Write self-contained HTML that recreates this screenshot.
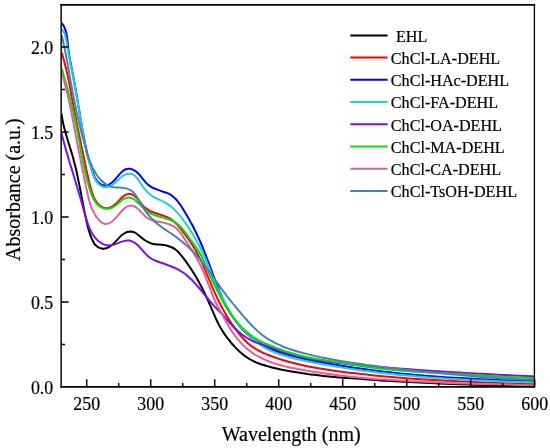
<!DOCTYPE html>
<html><head><meta charset="utf-8"><title>UV-Vis absorbance</title>
<style>html,body{margin:0;padding:0;background:#fff}body{width:550px;height:448px;overflow:hidden;position:relative}</style></head>
<body>
<svg width="550" height="448" viewBox="0 0 550 448" style="display:block;position:absolute;left:0;top:0">
<rect x="0" y="0" width="550" height="448" fill="#fff"/>
<clipPath id="c"><rect x="61.15" y="4.9" width="473.25" height="382.95000000000005"/></clipPath>
<g clip-path="url(#c)" fill="none" stroke-width="2" stroke-linejoin="round" stroke-linecap="butt">
<path d="M61.6,113.6C61.7,114.7 61.8,115.9 62.0,117.1C62.2,118.2 62.4,119.4 62.6,120.5C62.8,121.7 63.1,122.8 63.3,123.9C63.6,125.1 63.8,126.2 64.1,127.3C64.4,128.5 64.7,129.6 65.0,130.7C65.3,131.8 65.6,133.0 66.0,134.1C66.3,135.2 66.6,136.3 67.0,137.4C67.3,138.6 67.6,139.7 68.0,140.8C68.3,141.9 68.7,143.0 69.0,144.1C69.4,145.3 69.7,146.4 70.0,147.5C70.4,148.6 70.7,149.7 71.1,150.8C71.4,151.9 71.7,153.1 72.1,154.2C72.4,155.3 72.7,156.4 73.0,157.5C73.3,158.7 73.7,159.8 73.9,160.9C74.2,162.1 74.5,163.2 74.8,164.3C75.1,165.4 75.4,166.6 75.7,167.7C75.9,168.9 76.2,170.0 76.4,171.1C76.7,172.3 77.0,173.4 77.2,174.5C77.5,175.7 77.7,176.8 77.9,178.0C78.2,179.1 78.4,180.2 78.6,181.4C78.9,182.5 79.1,183.7 79.3,184.8C79.6,186.0 79.8,187.1 80.0,188.3C80.2,189.4 80.5,190.5 80.7,191.7C80.9,192.8 81.1,194.0 81.3,195.1C81.5,196.3 81.8,197.4 82.0,198.6C82.2,199.7 82.4,200.9 82.6,202.0C82.8,203.2 83.1,204.3 83.3,205.4C83.5,206.6 83.7,207.7 83.9,208.9C84.2,210.0 84.4,211.2 84.6,212.3C84.9,213.5 85.1,214.6 85.3,215.7C85.6,216.9 85.8,218.0 86.1,219.2C86.3,220.3 86.6,221.4 86.8,222.6C87.1,223.7 87.4,224.9 87.7,226.0C87.9,227.1 88.2,228.2 88.6,229.4C88.9,230.5 89.2,231.6 89.6,232.7C90.0,233.8 90.3,234.9 90.7,236.0C91.2,237.1 91.6,238.2 92.0,239.3C92.5,240.3 93.0,241.4 93.6,242.4C94.2,243.4 94.9,244.4 95.7,245.2C96.5,246.0 97.4,246.8 98.4,247.4C99.5,248.0 100.6,248.4 101.7,248.6C102.8,248.8 104.0,248.8 105.2,248.6C106.3,248.3 107.4,247.9 108.4,247.4C109.4,246.8 110.4,246.2 111.4,245.5C112.3,244.7 113.2,244.0 114.0,243.2C114.8,242.3 115.7,241.5 116.4,240.7C117.2,239.8 118.0,238.9 118.8,238.1C119.6,237.2 120.5,236.4 121.3,235.6C122.2,234.8 123.1,234.1 124.1,233.5C125.1,232.9 126.1,232.3 127.2,232.0C128.3,231.6 129.5,231.4 130.7,231.4C131.8,231.5 133.0,231.8 134.1,232.2C135.1,232.7 136.1,233.3 137.0,234.0C138.0,234.7 138.9,235.5 139.8,236.3C140.7,237.0 141.6,237.7 142.5,238.4C143.4,239.2 144.4,239.8 145.3,240.5C146.3,241.1 147.3,241.7 148.4,242.2C149.4,242.8 150.5,243.2 151.6,243.5C152.7,243.9 153.8,244.1 155.0,244.3C156.2,244.4 157.3,244.5 158.5,244.5C159.7,244.5 160.8,244.6 162.0,244.7C163.2,244.8 164.3,245.0 165.5,245.2C166.6,245.5 167.7,245.8 168.8,246.2C169.9,246.5 171.0,247.0 172.1,247.5C173.1,248.0 174.1,248.6 175.1,249.3C176.0,250.0 176.9,250.7 177.8,251.5C178.6,252.3 179.4,253.2 180.2,254.1C180.9,254.9 181.7,255.9 182.4,256.8C183.1,257.7 183.8,258.6 184.5,259.6C185.2,260.5 185.9,261.4 186.6,262.4C187.2,263.3 187.9,264.3 188.6,265.3C189.2,266.2 189.9,267.2 190.5,268.2C191.2,269.1 191.8,270.1 192.4,271.1C193.1,272.1 193.7,273.1 194.3,274.1C194.9,275.1 195.5,276.1 196.1,277.1C196.7,278.1 197.3,279.1 197.8,280.1C198.4,281.1 199.0,282.1 199.5,283.2C200.1,284.2 200.6,285.2 201.2,286.3C201.7,287.3 202.2,288.3 202.8,289.4C203.3,290.4 203.8,291.5 204.3,292.5C204.8,293.5 205.3,294.6 205.8,295.7C206.3,296.7 206.8,297.8 207.3,298.8C207.8,299.9 208.3,301.0 208.7,302.0C209.2,303.1 209.7,304.2 210.1,305.2C210.6,306.3 211.0,307.4 211.5,308.5C212.0,309.5 212.4,310.6 212.9,311.7C213.3,312.8 213.8,313.8 214.3,314.9C214.7,316.0 215.2,317.0 215.7,318.1C216.2,319.2 216.7,320.2 217.2,321.3C217.7,322.3 218.2,323.4 218.7,324.4C219.3,325.4 219.8,326.4 220.4,327.5C221.0,328.5 221.6,329.5 222.2,330.5C222.8,331.5 223.4,332.4 224.1,333.4C224.7,334.4 225.4,335.3 226.1,336.3C226.8,337.2 227.5,338.1 228.2,339.1C228.9,340.0 229.7,340.9 230.4,341.8C231.1,342.7 231.9,343.6 232.7,344.5C233.4,345.3 234.2,346.2 235.0,347.1C235.8,347.9 236.6,348.7 237.5,349.6C238.3,350.4 239.2,351.2 240.0,352.0C240.9,352.7 241.8,353.5 242.7,354.2C243.6,355.0 244.5,355.7 245.5,356.4C246.4,357.0 247.4,357.7 248.4,358.3C249.3,358.9 250.4,359.5 251.4,360.1C252.4,360.6 253.4,361.2 254.5,361.7C255.6,362.1 256.6,362.6 257.7,363.0C258.8,363.5 259.9,363.9 261.0,364.3C262.1,364.6 263.2,365.0 264.3,365.3C265.4,365.7 266.6,366.0 267.7,366.3C268.8,366.6 269.9,366.9 271.1,367.2C272.2,367.5 273.3,367.8 274.5,368.0C275.6,368.3 276.8,368.6 277.9,368.8C279.0,369.1 280.2,369.3 281.3,369.6C282.4,369.8 283.6,370.0 284.7,370.3C285.9,370.5 287.0,370.7 288.2,370.9C289.3,371.2 290.5,371.4 291.6,371.6C296.9,372.5 302.1,373.3 307.4,374.0C312.7,374.7 318.0,375.3 323.3,375.9C328.6,376.4 333.9,376.9 339.2,377.4C344.6,377.8 349.9,378.2 355.2,378.6C360.5,379.0 365.8,379.4 371.2,379.7C376.5,380.1 381.8,380.5 387.1,380.8C392.4,381.1 397.8,381.4 403.1,381.7C408.4,382.0 413.7,382.3 419.1,382.6C424.4,382.8 429.7,383.1 435.1,383.3C440.4,383.6 445.7,383.8 451.0,384.0C456.4,384.2 461.7,384.4 467.0,384.6C472.4,384.8 477.7,384.9 483.0,385.1C488.4,385.2 493.7,385.4 499.0,385.5C504.3,385.6 509.7,385.8 515.0,385.9C521.5,386.0 528.0,386.1 534.5,386.2" stroke="#000000"/>
<path d="M61.8,52.8C62.1,53.9 62.5,55.0 62.8,56.2C63.1,57.3 63.4,58.4 63.7,59.5C64.0,60.7 64.3,61.8 64.6,62.9C64.9,64.1 65.2,65.2 65.5,66.3C65.8,67.4 66.0,68.6 66.3,69.7C66.6,70.8 66.8,72.0 67.1,73.1C67.4,74.3 67.6,75.4 67.9,76.5C68.1,77.7 68.3,78.8 68.6,80.0C68.8,81.1 69.0,82.2 69.3,83.4C69.5,84.5 69.7,85.7 69.9,86.8C70.1,88.0 70.4,89.1 70.6,90.3C70.8,91.4 71.0,92.6 71.2,93.7C71.4,94.9 71.6,96.0 71.8,97.2C72.0,98.3 72.2,99.5 72.5,100.6C72.7,101.7 72.9,102.9 73.1,104.0C73.3,105.2 73.5,106.3 73.7,107.5C74.0,108.6 74.2,109.8 74.4,110.9C74.6,112.1 74.8,113.2 75.1,114.4C75.3,115.5 75.5,116.6 75.7,117.8C76.0,118.9 76.2,120.1 76.4,121.2C76.6,122.4 76.9,123.5 77.1,124.7C77.3,125.8 77.6,126.9 77.8,128.1C78.0,129.2 78.3,130.4 78.5,131.5C78.7,132.7 79.0,133.8 79.2,134.9C79.4,136.1 79.7,137.2 79.9,138.4C80.1,139.5 80.4,140.7 80.6,141.8C80.8,142.9 81.1,144.1 81.3,145.2C81.6,146.4 81.8,147.5 82.0,148.7C82.3,149.8 82.5,150.9 82.7,152.1C83.0,153.2 83.2,154.4 83.5,155.5C83.7,156.6 83.9,157.8 84.2,158.9C84.4,160.1 84.6,161.2 84.9,162.4C85.1,163.5 85.4,164.6 85.6,165.8C85.8,166.9 86.1,168.1 86.3,169.2C86.6,170.4 86.8,171.5 87.0,172.6C87.3,173.8 87.6,174.9 87.8,176.1C88.1,177.2 88.3,178.3 88.6,179.5C88.9,180.6 89.1,181.7 89.4,182.9C89.7,184.0 90.0,185.1 90.3,186.3C90.6,187.4 90.9,188.5 91.2,189.6C91.5,190.8 91.9,191.9 92.2,193.0C92.6,194.1 93.0,195.2 93.4,196.3C93.8,197.4 94.3,198.4 94.9,199.4C95.5,200.4 96.1,201.4 96.8,202.3C97.6,203.3 98.4,204.1 99.2,204.9C100.1,205.7 101.0,206.4 102.1,206.9C103.1,207.5 104.2,207.9 105.3,208.1C106.5,208.3 107.7,208.2 108.8,207.9C109.9,207.6 111.0,207.2 112.0,206.6C113.0,206.0 114.0,205.3 114.9,204.5C115.7,203.8 116.6,203.0 117.4,202.1C118.2,201.3 119.0,200.4 119.8,199.6C120.6,198.7 121.4,197.9 122.3,197.1C123.2,196.4 124.1,195.6 125.1,195.1C126.1,194.4 127.2,194.0 128.4,193.9C129.5,193.7 130.7,194.0 131.8,194.4C132.9,194.8 133.9,195.4 134.8,196.2C135.7,196.9 136.5,197.7 137.3,198.6C138.1,199.5 138.8,200.4 139.5,201.3C140.2,202.2 141.0,203.2 141.7,204.1C142.4,205.0 143.2,205.8 144.0,206.7C144.9,207.5 145.8,208.2 146.7,208.9C147.6,209.6 148.6,210.2 149.7,210.8C150.7,211.3 151.7,211.8 152.8,212.2C153.9,212.7 155.0,213.0 156.1,213.4C157.2,213.8 158.4,214.1 159.5,214.4C160.6,214.8 161.7,215.1 162.8,215.5C163.9,215.9 165.0,216.2 166.1,216.7C167.2,217.1 168.3,217.6 169.3,218.2C170.3,218.8 171.2,219.4 172.2,220.1C173.1,220.8 174.0,221.6 174.9,222.4C175.7,223.2 176.5,224.0 177.3,224.9C178.1,225.7 178.9,226.6 179.6,227.5C180.4,228.4 181.1,229.3 181.8,230.2C182.5,231.1 183.2,232.1 184.0,233.0C184.7,233.9 185.4,234.8 186.1,235.8C186.8,236.7 187.5,237.6 188.2,238.6C188.8,239.5 189.5,240.5 190.2,241.5C190.8,242.4 191.5,243.4 192.1,244.4C192.7,245.4 193.3,246.4 193.9,247.4C194.5,248.4 195.1,249.4 195.7,250.4C196.3,251.4 196.8,252.4 197.4,253.5C197.9,254.5 198.4,255.5 199.0,256.6C199.5,257.6 200.0,258.7 200.5,259.7C201.0,260.8 201.5,261.8 202.0,262.9C202.5,263.9 203.0,265.0 203.4,266.1C203.9,267.1 204.4,268.2 204.8,269.3C205.3,270.3 205.8,271.4 206.2,272.5C206.7,273.6 207.1,274.6 207.6,275.7C208.0,276.8 208.5,277.9 208.9,278.9C209.4,280.0 209.8,281.1 210.3,282.2C210.7,283.3 211.2,284.3 211.6,285.4C212.1,286.5 212.5,287.5 213.0,288.6C213.5,289.7 213.9,290.8 214.4,291.8C214.9,292.9 215.4,294.0 215.9,295.0C216.3,296.1 216.8,297.1 217.3,298.2C217.8,299.2 218.4,300.3 218.9,301.3C219.4,302.4 219.9,303.4 220.5,304.5C221.0,305.5 221.5,306.5 222.1,307.6C222.6,308.6 223.2,309.6 223.8,310.6C224.3,311.6 224.9,312.7 225.5,313.7C226.1,314.7 226.7,315.7 227.3,316.7C227.9,317.7 228.5,318.7 229.1,319.6C229.7,320.6 230.4,321.6 231.0,322.6C231.7,323.6 232.3,324.5 233.0,325.5C233.7,326.4 234.3,327.4 235.0,328.3C235.7,329.3 236.4,330.2 237.1,331.2C237.8,332.1 238.5,333.0 239.2,333.9C240.0,334.8 240.7,335.7 241.5,336.6C242.2,337.5 243.0,338.4 243.8,339.2C244.6,340.0 245.5,340.9 246.3,341.7C247.1,342.5 248.0,343.3 248.9,344.0C249.8,344.8 250.7,345.5 251.7,346.2C252.6,346.9 253.6,347.5 254.5,348.2C255.5,348.8 256.5,349.4 257.5,350.0C258.6,350.5 259.6,351.1 260.6,351.6C261.7,352.1 262.7,352.6 263.8,353.1C264.9,353.6 265.9,354.0 267.0,354.5C268.1,354.9 269.2,355.3 270.3,355.8C271.4,356.2 272.5,356.6 273.6,357.0C274.7,357.4 275.8,357.7 276.9,358.1C278.0,358.5 279.1,358.9 280.2,359.2C281.3,359.6 282.4,359.9 283.5,360.3C284.6,360.6 285.8,360.9 286.9,361.2C288.0,361.6 289.1,361.9 290.3,362.2C295.4,363.6 300.6,364.8 305.8,365.9C311.0,367.0 316.3,368.0 321.5,368.8C326.8,369.7 332.1,370.5 337.4,371.2C342.7,371.9 348.0,372.5 353.2,373.1C358.5,373.8 363.8,374.3 369.2,374.9C374.5,375.4 379.8,375.9 385.1,376.4C390.4,376.9 395.7,377.3 401.0,377.7C406.3,378.2 411.7,378.6 417.0,378.9C422.3,379.3 427.6,379.6 432.9,380.0C438.3,380.3 443.6,380.6 448.9,380.8C454.2,381.1 459.6,381.4 464.9,381.6C470.2,381.9 475.6,382.1 480.9,382.3C486.2,382.5 491.5,382.7 496.9,382.9C502.2,383.1 507.5,383.2 512.9,383.4C520.1,383.6 527.3,383.8 534.5,384.0" stroke="#ff0000"/>
<path d="M61.6,22.9C62.4,23.8 63.0,24.8 63.6,25.8C64.1,26.8 64.6,27.9 65.0,29.0C65.5,30.1 65.8,31.2 66.1,32.3C66.4,33.5 66.6,34.6 66.8,35.8C67.0,36.9 67.2,38.1 67.3,39.2C67.4,40.4 67.6,41.5 67.7,42.7C67.8,43.9 67.9,45.0 68.0,46.2C68.1,47.3 68.2,48.5 68.4,49.7C68.5,50.8 68.7,52.0 68.9,53.1C69.0,54.3 69.2,55.4 69.4,56.6C69.6,57.7 69.8,58.9 70.0,60.0C70.3,61.2 70.5,62.3 70.7,63.5C70.9,64.6 71.2,65.8 71.4,66.9C71.6,68.0 71.9,69.2 72.1,70.3C72.3,71.5 72.5,72.6 72.8,73.8C73.0,74.9 73.2,76.1 73.4,77.2C73.6,78.4 73.8,79.5 74.0,80.6C74.3,81.8 74.5,82.9 74.7,84.1C74.9,85.2 75.1,86.4 75.3,87.5C75.5,88.7 75.7,89.8 75.9,91.0C76.1,92.1 76.3,93.3 76.5,94.4C76.7,95.6 76.9,96.7 77.1,97.9C77.3,99.0 77.5,100.2 77.7,101.3C77.8,102.5 78.0,103.6 78.2,104.8C78.4,105.9 78.6,107.1 78.8,108.2C79.0,109.4 79.2,110.5 79.4,111.7C79.6,112.8 79.8,114.0 80.0,115.1C80.2,116.3 80.3,117.4 80.5,118.6C80.7,119.7 80.9,120.9 81.1,122.0C81.3,123.2 81.5,124.3 81.7,125.5C81.9,126.6 82.1,127.8 82.3,128.9C82.5,130.1 82.7,131.2 82.9,132.4C83.2,133.5 83.4,134.7 83.6,135.8C83.8,137.0 84.0,138.1 84.2,139.3C84.4,140.4 84.7,141.6 84.9,142.7C85.1,143.9 85.3,145.0 85.6,146.1C85.8,147.3 86.1,148.4 86.3,149.6C86.6,150.7 86.8,151.8 87.1,153.0C87.4,154.1 87.6,155.2 87.9,156.4C88.2,157.5 88.5,158.6 88.8,159.8C89.1,160.9 89.4,162.0 89.7,163.1C90.1,164.2 90.4,165.4 90.8,166.5C91.1,167.6 91.5,168.7 91.9,169.8C92.2,170.9 92.6,172.0 93.0,173.1C93.4,174.2 93.9,175.3 94.3,176.3C94.8,177.4 95.4,178.5 96.0,179.4C96.6,180.4 97.3,181.4 98.1,182.2C98.9,183.0 99.9,183.7 100.9,184.3C101.9,184.9 103.0,185.3 104.2,185.5C105.3,185.6 106.5,185.4 107.6,185.1C108.7,184.7 109.8,184.1 110.7,183.5C111.7,182.9 112.6,182.1 113.4,181.3C114.3,180.5 115.1,179.6 115.8,178.7C116.6,177.8 117.3,176.9 118.0,176.0C118.8,175.1 119.5,174.2 120.3,173.4C121.1,172.5 122.0,171.7 122.9,171.0C123.8,170.2 124.8,169.6 125.9,169.2C127.0,168.8 128.2,168.7 129.3,168.8C130.5,168.9 131.7,169.1 132.7,169.6C133.8,170.0 134.9,170.6 135.8,171.3C136.7,171.9 137.6,172.7 138.4,173.6C139.2,174.4 139.9,175.3 140.7,176.2C141.4,177.2 142.1,178.1 142.8,179.0C143.6,179.9 144.3,180.9 145.0,181.7C145.8,182.6 146.6,183.5 147.5,184.2C148.4,185.0 149.3,185.7 150.3,186.3C151.3,186.9 152.3,187.5 153.3,188.0C154.4,188.5 155.5,189.0 156.6,189.4C157.6,189.8 158.7,190.2 159.9,190.6C160.9,191.0 162.1,191.3 163.2,191.7C164.3,192.0 165.4,192.4 166.5,192.8C167.6,193.2 168.7,193.7 169.7,194.2C170.7,194.8 171.7,195.5 172.6,196.2C173.5,196.9 174.4,197.7 175.2,198.5C176.0,199.3 176.8,200.2 177.5,201.1C178.3,202.0 179.0,202.9 179.6,203.9C180.3,204.9 181.0,205.8 181.6,206.8C182.2,207.8 182.8,208.8 183.4,209.8C184.0,210.8 184.6,211.8 185.2,212.8C185.8,213.8 186.4,214.8 187.0,215.8C187.6,216.8 188.2,217.8 188.8,218.8C189.4,219.8 189.9,220.9 190.5,221.9C191.1,222.9 191.6,223.9 192.2,225.0C192.7,226.0 193.3,227.0 193.8,228.0C194.3,229.1 194.9,230.1 195.4,231.2C195.9,232.2 196.4,233.3 196.9,234.3C197.4,235.4 197.9,236.4 198.4,237.5C198.9,238.5 199.4,239.6 199.8,240.7C200.3,241.7 200.8,242.8 201.2,243.9C201.7,245.0 202.1,246.0 202.6,247.1C203.0,248.2 203.4,249.3 203.9,250.4C204.3,251.4 204.7,252.5 205.2,253.6C205.6,254.7 206.0,255.8 206.4,256.9C206.8,258.0 207.2,259.1 207.7,260.2C208.1,261.3 208.5,262.3 208.9,263.4C209.3,264.5 209.7,265.6 210.1,266.7C210.5,267.8 210.9,268.9 211.3,270.0C211.7,271.1 212.1,272.2 212.5,273.3C212.9,274.4 213.3,275.5 213.8,276.6C214.2,277.7 214.6,278.7 215.0,279.8C215.4,280.9 215.8,282.0 216.2,283.1C216.7,284.2 217.1,285.3 217.5,286.4C218.0,287.4 218.4,288.5 218.8,289.6C219.3,290.7 219.7,291.8 220.2,292.8C220.7,293.9 221.1,295.0 221.6,296.0C222.1,297.1 222.6,298.2 223.0,299.2C223.5,300.3 224.0,301.3 224.6,302.4C225.1,303.4 225.6,304.5 226.1,305.5C226.7,306.5 227.2,307.6 227.8,308.6C228.3,309.6 228.9,310.6 229.5,311.6C230.1,312.7 230.7,313.6 231.3,314.6C231.9,315.6 232.6,316.6 233.2,317.6C233.9,318.5 234.5,319.5 235.2,320.4C235.9,321.4 236.6,322.3 237.3,323.2C238.0,324.2 238.8,325.1 239.5,326.0C240.3,326.9 241.1,327.7 241.8,328.6C242.6,329.4 243.4,330.3 244.3,331.1C245.1,331.9 245.9,332.7 246.8,333.5C247.7,334.3 248.5,335.1 249.4,335.8C250.3,336.6 251.2,337.3 252.2,338.0C253.1,338.7 254.0,339.4 255.0,340.1C255.9,340.8 256.9,341.4 257.9,342.1C258.9,342.7 259.9,343.3 260.9,343.9C261.9,344.5 262.9,345.1 263.9,345.6C264.9,346.1 266.0,346.7 267.0,347.2C268.1,347.7 269.2,348.2 270.2,348.6C271.3,349.1 272.4,349.5 273.5,350.0C274.5,350.4 275.6,350.8 276.7,351.2C277.8,351.6 278.9,352.0 280.0,352.4C281.1,352.8 282.2,353.1 283.4,353.5C284.5,353.8 285.6,354.1 286.7,354.5C287.8,354.8 288.9,355.1 290.1,355.4C295.2,356.8 300.4,358.1 305.6,359.2C310.8,360.4 316.0,361.4 321.3,362.4C326.5,363.4 331.8,364.2 337.1,365.1C342.3,366.0 347.6,366.8 352.9,367.5C358.2,368.3 363.4,369.0 368.7,369.7C374.0,370.4 379.3,371.1 384.6,371.7C389.9,372.3 395.2,372.9 400.5,373.4C405.8,373.9 411.1,374.4 416.4,374.9C421.8,375.4 427.1,375.8 432.4,376.2C437.7,376.6 443.0,377.0 448.3,377.4C453.7,377.7 459.0,378.0 464.3,378.3C469.6,378.6 475.0,378.9 480.3,379.2C485.6,379.4 491.0,379.7 496.3,379.9C501.6,380.1 506.9,380.3 512.3,380.5C519.7,380.7 527.1,380.9 534.5,381.1" stroke="#0000ff"/>
<path d="M61.8,29.0C62.5,29.9 63.2,30.9 63.7,31.9C64.2,33.0 64.7,34.1 65.0,35.2C65.4,36.3 65.7,37.4 65.9,38.6C66.2,39.7 66.4,40.8 66.6,42.0C66.8,43.1 66.9,44.3 67.1,45.5C67.3,46.6 67.5,47.8 67.7,48.9C67.9,50.1 68.1,51.2 68.3,52.4C68.5,53.5 68.7,54.7 68.9,55.8C69.1,56.9 69.3,58.1 69.6,59.2C69.8,60.4 70.0,61.5 70.3,62.7C70.5,63.8 70.7,65.0 71.0,66.1C71.2,67.2 71.4,68.4 71.7,69.5C71.9,70.7 72.1,71.8 72.4,73.0C72.6,74.1 72.8,75.2 73.0,76.4C73.3,77.5 73.5,78.7 73.7,79.8C73.9,81.0 74.1,82.1 74.4,83.3C74.6,84.4 74.8,85.6 75.0,86.7C75.2,87.9 75.4,89.0 75.6,90.1C75.8,91.3 76.0,92.4 76.2,93.6C76.4,94.7 76.6,95.9 76.8,97.0C77.0,98.2 77.2,99.3 77.4,100.5C77.6,101.6 77.8,102.8 78.0,103.9C78.2,105.1 78.4,106.2 78.6,107.4C78.8,108.5 79.0,109.7 79.2,110.8C79.4,112.0 79.6,113.1 79.8,114.3C80.0,115.4 80.2,116.6 80.3,117.7C80.5,118.9 80.7,120.0 80.9,121.2C81.1,122.4 81.3,123.5 81.5,124.7C81.7,125.8 81.9,127.0 82.1,128.1C82.2,129.3 82.4,130.4 82.6,131.6C82.8,132.7 83.0,133.9 83.2,135.0C83.4,136.2 83.6,137.3 83.8,138.5C84.1,139.6 84.3,140.7 84.5,141.9C84.7,143.0 84.9,144.2 85.2,145.3C85.4,146.5 85.6,147.6 85.9,148.8C86.1,149.9 86.4,151.0 86.6,152.2C86.9,153.3 87.1,154.4 87.4,155.6C87.7,156.7 88.0,157.8 88.3,159.0C88.6,160.1 88.9,161.2 89.2,162.4C89.5,163.5 89.8,164.6 90.1,165.7C90.5,166.8 90.8,168.0 91.2,169.1C91.5,170.2 91.9,171.3 92.3,172.4C92.6,173.5 93.0,174.6 93.4,175.7C93.9,176.8 94.4,177.8 94.9,178.9C95.4,179.9 96.0,180.9 96.7,181.8C97.4,182.8 98.2,183.6 99.1,184.4C100.0,185.2 101.0,185.8 102.0,186.3C103.1,186.8 104.3,187.1 105.4,187.1C106.6,187.1 107.7,186.9 108.9,186.5C109.9,186.1 111.0,185.6 112.0,184.9C112.9,184.3 113.9,183.6 114.8,182.8C115.7,182.1 116.6,181.3 117.4,180.5C118.3,179.7 119.1,178.9 120.0,178.2C120.9,177.4 121.8,176.6 122.7,176.0C123.7,175.3 124.7,174.8 125.8,174.4C126.9,174.0 128.1,173.7 129.2,173.7C130.4,173.7 131.6,173.9 132.6,174.4C133.7,174.9 134.7,175.5 135.5,176.4C136.3,177.2 137.1,178.1 137.8,179.1C138.4,180.0 139.1,181.0 139.7,182.0C140.3,183.0 141.0,183.9 141.7,184.9C142.3,185.8 143.0,186.8 143.7,187.7C144.4,188.7 145.1,189.6 145.9,190.4C146.7,191.3 147.5,192.2 148.3,193.0C149.2,193.8 150.0,194.5 151.0,195.2C151.9,195.9 152.9,196.6 153.9,197.1C154.9,197.7 156.0,198.2 157.0,198.7C158.1,199.2 159.2,199.6 160.2,200.1C161.3,200.6 162.4,201.1 163.4,201.6C164.4,202.2 165.5,202.7 166.4,203.4C167.4,204.0 168.4,204.6 169.3,205.3C170.3,206.0 171.2,206.7 172.1,207.5C173.0,208.2 173.8,209.0 174.7,209.8C175.5,210.7 176.3,211.5 177.1,212.4C177.9,213.2 178.6,214.1 179.4,215.0C180.1,215.9 180.8,216.8 181.5,217.8C182.2,218.7 182.9,219.6 183.6,220.6C184.3,221.5 185.0,222.5 185.7,223.4C186.4,224.4 187.0,225.3 187.7,226.3C188.3,227.3 189.0,228.2 189.6,229.2C190.2,230.2 190.9,231.2 191.5,232.2C192.1,233.1 192.7,234.1 193.3,235.1C193.9,236.1 194.5,237.2 195.1,238.2C195.7,239.2 196.2,240.2 196.8,241.2C197.4,242.2 197.9,243.3 198.5,244.3C199.0,245.3 199.5,246.4 200.1,247.4C200.6,248.4 201.1,249.5 201.6,250.5C202.1,251.6 202.6,252.6 203.1,253.7C203.6,254.7 204.1,255.8 204.6,256.9C205.1,257.9 205.5,259.0 206.0,260.1C206.5,261.2 206.9,262.2 207.4,263.3C207.8,264.4 208.2,265.5 208.7,266.6C209.1,267.6 209.5,268.7 209.9,269.8C210.3,270.9 210.8,272.0 211.2,273.1C211.6,274.2 212.0,275.3 212.4,276.4C212.8,277.5 213.2,278.5 213.7,279.6C214.1,280.7 214.6,281.8 215.0,282.9C215.5,283.9 216.0,285.0 216.4,286.1C216.9,287.1 217.5,288.2 218.0,289.2C218.5,290.2 219.0,291.3 219.6,292.3C220.1,293.3 220.7,294.4 221.2,295.4C221.8,296.4 222.3,297.5 222.8,298.5C223.3,299.6 223.9,300.6 224.4,301.7C224.9,302.7 225.4,303.8 225.8,304.8C226.3,305.9 226.8,306.9 227.4,308.0C227.9,309.0 228.4,310.1 229.0,311.1C229.5,312.1 230.1,313.1 230.7,314.1C231.3,315.1 232.0,316.1 232.6,317.1C233.3,318.0 234.0,319.0 234.7,319.9C235.4,320.8 236.1,321.8 236.8,322.7C237.6,323.6 238.3,324.4 239.1,325.3C239.9,326.2 240.7,327.0 241.5,327.9C242.3,328.7 243.1,329.5 244.0,330.3C244.8,331.2 245.7,332.0 246.5,332.7C247.4,333.5 248.2,334.3 249.1,335.1C250.0,335.9 250.9,336.6 251.7,337.4C252.6,338.2 253.5,338.9 254.4,339.7C255.2,340.5 256.1,341.3 257.0,342.1C257.8,342.8 258.7,343.6 259.6,344.3C260.5,345.1 261.5,345.8 262.4,346.4C263.4,347.0 264.4,347.6 265.5,348.2C266.5,348.7 267.5,349.2 268.6,349.7C269.6,350.2 270.7,350.7 271.8,351.2C272.9,351.6 273.9,352.1 275.0,352.5C276.1,352.9 277.2,353.3 278.3,353.7C279.4,354.1 280.5,354.5 281.6,354.8C282.7,355.2 283.9,355.5 285.0,355.8C286.1,356.2 287.2,356.5 288.3,356.8C289.5,357.1 290.6,357.4 291.7,357.7C296.9,359.0 302.1,360.1 307.3,361.2C312.6,362.3 317.8,363.4 323.0,364.3C328.3,365.3 333.5,366.2 338.8,367.1C344.1,367.9 349.3,368.7 354.6,369.4C359.9,370.2 365.2,370.9 370.5,371.6C375.8,372.2 381.1,372.9 386.4,373.4C391.7,374.0 397.0,374.6 402.3,375.1C407.6,375.6 412.9,376.1 418.2,376.5C423.5,377.0 428.8,377.4 434.2,377.8C439.5,378.2 444.8,378.5 450.1,378.9C455.4,379.2 460.8,379.5 466.1,379.8C471.4,380.1 476.8,380.3 482.1,380.6C487.4,380.8 492.7,381.0 498.1,381.2C503.4,381.4 508.7,381.6 514.1,381.8C520.9,382.0 527.7,382.2 534.5,382.4" stroke="#1fcfd6"/>
<path d="M61.5,133.3C61.8,134.4 62.1,135.5 62.4,136.7C62.7,137.8 63.0,138.9 63.3,140.0C63.6,141.2 63.9,142.3 64.2,143.4C64.5,144.5 64.8,145.7 65.1,146.8C65.5,147.9 65.8,149.0 66.1,150.2C66.4,151.3 66.7,152.4 67.1,153.5C67.4,154.6 67.7,155.8 68.1,156.9C68.4,158.0 68.7,159.1 69.0,160.2C69.4,161.4 69.7,162.5 70.0,163.6C70.4,164.7 70.7,165.8 71.1,166.9C71.4,168.1 71.7,169.2 72.1,170.3C72.4,171.4 72.7,172.5 73.1,173.6C73.4,174.8 73.8,175.9 74.1,177.0C74.4,178.1 74.8,179.2 75.1,180.3C75.5,181.5 75.8,182.6 76.1,183.7C76.5,184.8 76.8,185.9 77.1,187.0C77.5,188.2 77.8,189.3 78.1,190.4C78.5,191.5 78.8,192.6 79.1,193.7C79.5,194.9 79.8,196.0 80.1,197.1C80.5,198.2 80.8,199.3 81.1,200.5C81.4,201.6 81.7,202.7 82.1,203.8C82.4,205.0 82.7,206.1 83.0,207.2C83.3,208.3 83.6,209.5 83.9,210.6C84.2,211.7 84.5,212.8 84.9,214.0C85.2,215.1 85.5,216.2 85.8,217.3C86.1,218.5 86.4,219.6 86.8,220.7C87.1,221.8 87.5,222.9 87.9,224.0C88.3,225.1 88.7,226.2 89.1,227.3C89.6,228.4 90.0,229.4 90.6,230.5C91.1,231.5 91.6,232.6 92.2,233.5C92.8,234.5 93.5,235.5 94.2,236.4C94.9,237.4 95.6,238.3 96.4,239.1C97.2,240.0 98.1,240.8 99.0,241.5C99.9,242.2 100.9,242.9 101.9,243.5C102.9,244.1 104.0,244.6 105.1,244.9C106.2,245.2 107.3,245.4 108.5,245.4C109.7,245.4 110.8,245.3 112.0,245.1C113.1,244.9 114.3,244.5 115.4,244.1C116.5,243.8 117.5,243.3 118.6,242.9C119.7,242.4 120.8,241.9 121.9,241.6C123.0,241.2 124.1,240.9 125.3,240.7C126.4,240.4 127.6,240.4 128.7,240.5C129.9,240.6 131.0,240.9 132.1,241.4C133.2,241.8 134.2,242.4 135.2,243.1C136.1,243.7 137.0,244.5 137.9,245.3C138.7,246.1 139.5,246.9 140.3,247.8C141.1,248.7 141.8,249.5 142.6,250.4C143.4,251.3 144.1,252.2 144.9,253.1C145.7,253.9 146.5,254.8 147.3,255.6C148.2,256.4 149.1,257.2 150.0,257.8C151.0,258.5 152.0,259.1 153.0,259.6C154.1,260.1 155.2,260.6 156.3,261.0C157.3,261.4 158.4,261.8 159.5,262.2C160.6,262.6 161.7,262.9 162.8,263.3C163.9,263.7 165.0,264.1 166.1,264.5C167.2,264.9 168.3,265.3 169.4,265.7C170.5,266.1 171.6,266.5 172.7,267.0C173.8,267.4 174.8,267.9 175.9,268.4C176.9,268.9 178.0,269.4 179.0,270.0C180.0,270.6 181.0,271.2 182.0,271.8C183.0,272.5 183.9,273.1 184.8,273.8C185.8,274.5 186.7,275.3 187.6,276.0C188.5,276.8 189.3,277.6 190.2,278.4C191.0,279.2 191.9,280.0 192.7,280.8C193.5,281.7 194.3,282.5 195.1,283.4C195.9,284.2 196.6,285.1 197.4,286.0C198.2,286.9 198.9,287.8 199.7,288.7C200.4,289.5 201.2,290.5 201.9,291.4C202.6,292.3 203.4,293.2 204.1,294.1C204.8,295.0 205.6,295.9 206.3,296.8C207.0,297.7 207.8,298.6 208.5,299.5C209.3,300.4 210.0,301.3 210.8,302.2C211.5,303.1 212.3,303.9 213.1,304.8C213.9,305.7 214.7,306.5 215.5,307.4C216.3,308.2 217.1,309.0 217.9,309.8C218.8,310.7 219.6,311.5 220.4,312.3C221.3,313.1 222.1,314.0 222.8,314.8C223.6,315.7 224.4,316.6 225.1,317.5C225.9,318.4 226.6,319.3 227.4,320.2C228.1,321.1 228.9,322.0 229.6,322.9C230.4,323.7 231.2,324.6 232.0,325.4C232.8,326.3 233.6,327.1 234.4,327.9C235.3,328.7 236.1,329.5 237.0,330.3C237.9,331.1 238.8,331.8 239.7,332.6C240.6,333.3 241.5,334.1 242.4,334.8C243.3,335.5 244.3,336.1 245.3,336.8C246.2,337.4 247.2,338.1 248.2,338.7C249.2,339.3 250.2,339.8 251.3,340.4C252.3,340.9 253.4,341.4 254.4,341.8C255.5,342.3 256.6,342.7 257.7,343.1C258.8,343.5 259.9,343.8 261.0,344.2C262.2,344.5 263.3,344.9 264.4,345.2C265.5,345.6 266.6,345.9 267.7,346.3C268.8,346.7 269.9,347.1 271.0,347.5C272.1,347.9 273.2,348.3 274.3,348.7C275.4,349.1 276.5,349.5 277.6,349.9C278.7,350.3 279.8,350.6 280.9,351.0C282.0,351.4 283.1,351.8 284.2,352.1C285.3,352.5 286.4,352.8 287.6,353.2C288.7,353.5 289.8,353.8 290.9,354.2C296.0,355.6 301.2,356.9 306.4,358.0C311.6,359.1 316.9,360.1 322.2,360.9C327.4,361.8 332.7,362.5 338.0,363.1C343.3,363.8 348.6,364.3 353.9,364.8C359.2,365.3 364.6,365.8 369.9,366.2C375.2,366.7 380.5,367.1 385.8,367.5C391.1,367.9 396.4,368.3 401.8,368.7C407.1,369.1 412.4,369.5 417.7,369.9C423.0,370.3 428.4,370.6 433.7,371.0C439.0,371.3 444.3,371.7 449.7,372.0C455.0,372.3 460.3,372.6 465.6,373.0C470.9,373.3 476.3,373.6 481.6,373.8C486.9,374.1 492.2,374.4 497.6,374.7C502.9,374.9 508.2,375.2 513.6,375.4C520.5,375.7 527.5,376.1 534.5,376.3" stroke="#7a10e8"/>
<path d="M61.9,68.8C62.2,69.9 62.5,71.0 62.9,72.1C63.2,73.3 63.5,74.4 63.8,75.5C64.2,76.6 64.5,77.8 64.8,78.9C65.1,80.0 65.4,81.1 65.7,82.2C66.0,83.4 66.4,84.5 66.7,85.6C67.0,86.8 67.3,87.9 67.6,89.0C67.9,90.1 68.1,91.3 68.4,92.4C68.7,93.5 69.0,94.7 69.3,95.8C69.6,96.9 69.9,98.1 70.1,99.2C70.4,100.3 70.7,101.5 71.0,102.6C71.2,103.7 71.5,104.9 71.8,106.0C72.1,107.1 72.3,108.3 72.6,109.4C72.8,110.5 73.1,111.7 73.4,112.8C73.6,113.9 73.9,115.1 74.1,116.2C74.4,117.4 74.6,118.5 74.9,119.6C75.1,120.8 75.3,121.9 75.6,123.1C75.8,124.2 76.1,125.4 76.3,126.5C76.5,127.6 76.8,128.8 77.0,129.9C77.2,131.1 77.4,132.2 77.7,133.4C77.9,134.5 78.1,135.7 78.3,136.8C78.5,137.9 78.8,139.1 79.0,140.2C79.2,141.4 79.4,142.5 79.6,143.7C79.8,144.8 80.0,146.0 80.2,147.1C80.4,148.3 80.7,149.4 80.9,150.6C81.1,151.7 81.3,152.9 81.5,154.0C81.7,155.2 82.0,156.3 82.2,157.4C82.4,158.6 82.6,159.7 82.8,160.9C83.1,162.0 83.3,163.2 83.5,164.3C83.8,165.5 84.0,166.6 84.3,167.7C84.5,168.9 84.8,170.0 85.0,171.2C85.3,172.3 85.5,173.4 85.8,174.6C86.1,175.7 86.4,176.8 86.6,178.0C86.9,179.1 87.2,180.2 87.5,181.3C87.8,182.5 88.1,183.6 88.5,184.7C88.8,185.8 89.1,187.0 89.4,188.1C89.8,189.2 90.1,190.3 90.5,191.4C90.8,192.5 91.2,193.6 91.6,194.7C92.1,195.8 92.5,196.9 93.0,197.9C93.5,199.0 94.1,200.0 94.7,201.0C95.4,202.0 96.1,202.9 96.9,203.8C97.6,204.6 98.5,205.4 99.5,206.1C100.4,206.7 101.4,207.3 102.5,207.8C103.6,208.3 104.7,208.6 105.9,208.8C107.1,208.9 108.2,208.9 109.3,208.6C110.5,208.4 111.5,207.9 112.6,207.4C113.6,206.8 114.6,206.2 115.5,205.5C116.5,204.8 117.4,204.0 118.2,203.2C119.1,202.5 120.0,201.7 120.9,200.9C121.8,200.2 122.7,199.5 123.7,198.9C124.8,198.4 125.9,197.9 127.0,197.7C128.2,197.5 129.3,197.4 130.5,197.7C131.6,197.9 132.7,198.4 133.7,199.0C134.6,199.7 135.5,200.4 136.4,201.2C137.3,202.0 138.1,202.8 139.0,203.6C139.8,204.4 140.6,205.2 141.5,206.1C142.3,206.9 143.1,207.7 144.0,208.5C144.8,209.3 145.7,210.1 146.6,210.8C147.5,211.5 148.5,212.2 149.5,212.8C150.5,213.4 151.5,213.9 152.6,214.4C153.7,214.8 154.8,215.2 155.9,215.5C157.0,215.9 158.1,216.2 159.3,216.5C160.4,216.8 161.5,217.1 162.6,217.4C163.8,217.7 164.9,218.1 166.0,218.4C167.1,218.8 168.2,219.1 169.3,219.5C170.4,219.9 171.5,220.4 172.5,220.9C173.6,221.4 174.6,222.0 175.6,222.6C176.6,223.2 177.5,223.9 178.4,224.7C179.2,225.5 180.1,226.3 180.9,227.1C181.7,228.0 182.5,228.9 183.2,229.8C183.9,230.7 184.6,231.6 185.3,232.5C186.0,233.5 186.7,234.4 187.4,235.4C188.1,236.3 188.7,237.3 189.4,238.2C190.1,239.2 190.8,240.1 191.5,241.0C192.2,242.0 192.9,242.9 193.6,243.8C194.3,244.8 195.0,245.7 195.7,246.7C196.3,247.6 197.0,248.6 197.6,249.6C198.3,250.5 198.9,251.5 199.5,252.5C200.0,253.5 200.6,254.6 201.1,255.6C201.7,256.6 202.2,257.7 202.7,258.7C203.2,259.8 203.7,260.9 204.2,261.9C204.6,263.0 205.1,264.1 205.6,265.1C206.0,266.2 206.5,267.3 206.9,268.3C207.4,269.4 207.9,270.5 208.3,271.6C208.8,272.6 209.3,273.7 209.7,274.8C210.2,275.8 210.7,276.9 211.2,278.0C211.7,279.0 212.1,280.1 212.6,281.1C213.1,282.2 213.6,283.2 214.1,284.3C214.6,285.3 215.2,286.4 215.7,287.4C216.2,288.5 216.7,289.5 217.2,290.6C217.7,291.6 218.3,292.7 218.8,293.7C219.3,294.8 219.9,295.8 220.4,296.8C220.9,297.9 221.5,298.9 222.0,299.9C222.6,300.9 223.2,301.9 223.8,303.0C224.3,304.0 224.9,305.0 225.5,306.0C226.1,307.0 226.7,308.0 227.3,309.0C228.0,310.0 228.6,310.9 229.2,311.9C229.9,312.9 230.6,313.8 231.2,314.8C231.9,315.7 232.6,316.7 233.3,317.6C234.0,318.5 234.7,319.5 235.5,320.4C236.2,321.3 236.9,322.2 237.7,323.0C238.5,323.9 239.3,324.8 240.1,325.6C240.9,326.5 241.7,327.3 242.5,328.1C243.4,328.9 244.2,329.7 245.1,330.5C245.9,331.3 246.8,332.1 247.7,332.8C248.6,333.6 249.5,334.3 250.5,335.0C251.4,335.7 252.4,336.3 253.3,337.0C254.3,337.6 255.3,338.3 256.3,338.9C257.3,339.5 258.3,340.1 259.3,340.6C260.4,341.2 261.4,341.7 262.4,342.2C263.5,342.7 264.6,343.2 265.6,343.6C266.7,344.1 267.8,344.5 268.9,345.0C269.9,345.4 271.0,345.9 272.1,346.3C273.2,346.7 274.3,347.1 275.4,347.6C276.5,348.0 277.6,348.4 278.6,348.8C279.7,349.2 280.8,349.6 281.9,350.0C283.0,350.4 284.1,350.8 285.2,351.2C286.3,351.5 287.4,351.9 288.6,352.3C289.7,352.6 290.8,353.0 291.9,353.3C297.0,354.9 302.2,356.1 307.4,357.2C312.6,358.2 317.9,359.1 323.2,359.9C328.5,360.8 333.7,361.6 339.0,362.5C344.2,363.4 349.5,364.3 354.7,365.1C360.0,365.9 365.3,366.7 370.6,367.4C375.9,368.1 381.2,368.7 386.5,369.2C391.8,369.8 397.1,370.3 402.4,370.7C407.7,371.1 413.0,371.5 418.4,371.8C423.7,372.1 429.0,372.4 434.3,372.7C439.7,373.0 445.0,373.3 450.3,373.6C455.6,373.9 461.0,374.2 466.3,374.6C471.6,374.9 476.9,375.2 482.3,375.5C487.6,375.8 492.9,376.1 498.2,376.4C503.6,376.7 508.9,376.9 514.2,377.2C521.0,377.5 527.7,377.8 534.5,378.0" stroke="#00e000"/>
<path d="M61.5,72.0C61.8,73.1 62.2,74.3 62.5,75.4C62.8,76.5 63.2,77.6 63.5,78.7C63.8,79.9 64.1,81.0 64.4,82.1C64.7,83.2 65.0,84.4 65.3,85.5C65.6,86.6 65.9,87.7 66.2,88.9C66.5,90.0 66.7,91.1 67.0,92.3C67.3,93.4 67.6,94.6 67.8,95.7C68.1,96.8 68.3,98.0 68.6,99.1C68.8,100.2 69.1,101.4 69.3,102.5C69.6,103.7 69.8,104.8 70.1,105.9C70.3,107.1 70.5,108.2 70.8,109.4C71.0,110.5 71.2,111.7 71.5,112.8C71.7,113.9 71.9,115.1 72.1,116.2C72.4,117.4 72.6,118.5 72.8,119.7C73.0,120.8 73.2,122.0 73.5,123.1C73.7,124.3 73.9,125.4 74.1,126.5C74.3,127.7 74.5,128.8 74.8,130.0C75.0,131.1 75.2,132.3 75.4,133.4C75.6,134.6 75.8,135.7 76.1,136.9C76.3,138.0 76.5,139.2 76.7,140.3C76.9,141.5 77.2,142.6 77.4,143.7C77.6,144.9 77.8,146.0 78.1,147.2C78.3,148.3 78.5,149.5 78.7,150.6C79.0,151.8 79.2,152.9 79.4,154.0C79.6,155.2 79.9,156.3 80.1,157.5C80.3,158.6 80.5,159.8 80.8,160.9C81.0,162.1 81.2,163.2 81.5,164.3C81.7,165.5 81.9,166.6 82.2,167.8C82.4,168.9 82.6,170.1 82.9,171.2C83.1,172.3 83.3,173.5 83.6,174.6C83.8,175.8 84.0,176.9 84.3,178.1C84.5,179.2 84.8,180.3 85.0,181.5C85.2,182.6 85.5,183.8 85.7,184.9C86.0,186.0 86.2,187.2 86.4,188.3C86.7,189.5 86.9,190.6 87.2,191.8C87.4,192.9 87.7,194.0 87.9,195.2C88.2,196.3 88.4,197.4 88.7,198.6C89.0,199.7 89.3,200.8 89.6,202.0C90.0,203.1 90.3,204.2 90.7,205.3C91.1,206.4 91.5,207.5 91.9,208.6C92.4,209.6 92.9,210.7 93.4,211.7C93.9,212.8 94.5,213.8 95.1,214.8C95.7,215.8 96.4,216.7 97.1,217.7C97.8,218.6 98.6,219.5 99.4,220.3C100.2,221.1 101.1,221.9 102.0,222.6C103.0,223.3 104.1,223.8 105.2,224.0C106.3,224.1 107.5,223.8 108.6,223.4C109.7,223.0 110.7,222.4 111.7,221.7C112.6,221.0 113.5,220.2 114.3,219.4C115.2,218.5 116.0,217.7 116.7,216.8C117.5,215.9 118.3,215.0 119.0,214.2C119.8,213.3 120.5,212.4 121.3,211.5C122.1,210.7 122.9,209.8 123.7,209.0C124.6,208.2 125.5,207.4 126.5,206.8C127.5,206.2 128.6,205.8 129.7,205.7C130.9,205.5 132.1,205.7 133.2,206.0C134.3,206.3 135.4,206.9 136.3,207.5C137.3,208.2 138.2,208.9 139.0,209.7C139.9,210.5 140.7,211.4 141.4,212.3C142.2,213.2 143.0,214.0 143.8,214.9C144.6,215.7 145.4,216.6 146.3,217.3C147.3,218.0 148.3,218.6 149.3,219.1C150.4,219.6 151.5,220.0 152.6,220.3C153.7,220.7 154.8,221.0 156.0,221.2C157.1,221.5 158.3,221.7 159.4,221.9C160.6,222.1 161.7,222.3 162.8,222.6C164.0,222.8 165.1,223.1 166.2,223.4C167.4,223.7 168.5,224.1 169.6,224.5C170.7,224.9 171.7,225.4 172.8,225.9C173.8,226.5 174.8,227.1 175.7,227.8C176.6,228.6 177.4,229.4 178.2,230.2C179.0,231.1 179.7,232.0 180.4,233.0C181.1,233.9 181.8,234.9 182.4,235.8C183.1,236.8 183.7,237.8 184.4,238.7C185.0,239.7 185.7,240.7 186.3,241.6C187.0,242.6 187.6,243.6 188.3,244.5C188.9,245.5 189.6,246.5 190.2,247.5C190.8,248.5 191.5,249.4 192.1,250.4C192.7,251.4 193.3,252.4 193.9,253.4C194.5,254.4 195.1,255.4 195.7,256.4C196.3,257.4 196.8,258.5 197.4,259.5C197.9,260.5 198.5,261.5 199.0,262.6C199.5,263.6 200.1,264.7 200.6,265.7C201.1,266.8 201.6,267.8 202.1,268.9C202.6,269.9 203.0,271.0 203.5,272.1C204.0,273.1 204.4,274.2 204.9,275.3C205.3,276.4 205.8,277.4 206.2,278.5C206.6,279.6 207.1,280.7 207.5,281.8C207.9,282.9 208.3,284.0 208.7,285.1C209.1,286.1 209.6,287.2 210.0,288.3C210.4,289.4 210.8,290.5 211.2,291.6C211.6,292.7 212.0,293.8 212.4,294.9C212.8,296.0 213.3,297.1 213.7,298.1C214.2,299.2 214.6,300.3 215.1,301.3C215.6,302.4 216.1,303.5 216.7,304.5C217.2,305.5 217.7,306.5 218.3,307.6C218.9,308.6 219.5,309.6 220.1,310.6C220.6,311.6 221.2,312.6 221.8,313.6C222.4,314.7 222.9,315.7 223.5,316.7C224.0,317.7 224.6,318.8 225.1,319.8C225.7,320.8 226.2,321.8 226.8,322.9C227.4,323.9 227.9,324.9 228.5,325.9C229.1,326.9 229.7,327.9 230.3,328.9C230.9,329.9 231.6,330.9 232.2,331.9C232.9,332.8 233.5,333.8 234.2,334.7C234.9,335.7 235.6,336.6 236.3,337.5C237.0,338.5 237.8,339.4 238.5,340.2C239.3,341.1 240.1,342.0 240.9,342.9C241.7,343.7 242.5,344.5 243.3,345.4C244.1,346.2 245.0,347.0 245.9,347.7C246.7,348.5 247.6,349.3 248.6,350.0C249.5,350.7 250.4,351.4 251.3,352.1C252.3,352.8 253.3,353.4 254.2,354.1C255.2,354.7 256.2,355.3 257.2,355.9C258.3,356.4 259.3,357.0 260.3,357.5C261.4,358.1 262.4,358.6 263.5,359.1C264.5,359.6 265.6,360.0 266.7,360.5C267.7,360.9 268.8,361.4 269.9,361.8C271.0,362.2 272.1,362.6 273.2,363.0C274.3,363.3 275.4,363.7 276.5,364.0C277.7,364.4 278.8,364.7 279.9,365.0C281.0,365.4 282.1,365.7 283.3,365.9C284.4,366.2 285.5,366.5 286.7,366.8C287.8,367.1 288.9,367.3 290.1,367.6C295.3,368.7 300.5,369.7 305.8,370.6C311.0,371.5 316.3,372.4 321.6,373.1C326.9,373.9 332.2,374.6 337.5,375.2C342.8,375.8 348.1,376.4 353.4,376.9C358.7,377.5 364.0,378.0 369.3,378.4C374.6,378.9 379.9,379.3 385.2,379.6C390.6,380.0 395.9,380.4 401.2,380.7C406.5,381.0 411.9,381.3 417.2,381.5C422.5,381.8 427.8,382.0 433.2,382.3C438.5,382.5 443.8,382.7 449.2,382.9C454.5,383.0 459.8,383.2 465.2,383.4C470.5,383.5 475.8,383.7 481.1,383.9C486.5,384.0 491.8,384.2 497.1,384.3C502.5,384.4 507.8,384.6 513.1,384.7C520.3,385.0 527.4,385.2 534.5,385.4" stroke="#e0609a"/>
<path d="M61.8,35.4C62.1,36.5 62.3,37.7 62.6,38.8C62.8,39.9 63.1,41.1 63.3,42.2C63.6,43.4 63.8,44.5 64.0,45.7C64.3,46.8 64.5,47.9 64.7,49.1C65.0,50.2 65.2,51.4 65.4,52.5C65.6,53.7 65.9,54.8 66.1,56.0C66.3,57.1 66.5,58.3 66.7,59.4C66.9,60.5 67.1,61.7 67.3,62.8C67.6,64.0 67.8,65.1 68.0,66.3C68.2,67.4 68.4,68.6 68.6,69.7C68.8,70.9 69.0,72.0 69.2,73.2C69.4,74.3 69.6,75.5 69.8,76.6C70.0,77.8 70.2,78.9 70.4,80.1C70.6,81.2 70.8,82.4 71.1,83.5C71.3,84.7 71.5,85.8 71.7,87.0C71.9,88.1 72.1,89.3 72.3,90.4C72.5,91.5 72.7,92.7 73.0,93.8C73.2,95.0 73.4,96.1 73.6,97.3C73.8,98.4 74.1,99.6 74.3,100.7C74.5,101.9 74.7,103.0 75.0,104.1C75.2,105.3 75.5,106.4 75.7,107.6C75.9,108.7 76.2,109.8 76.4,111.0C76.7,112.1 76.9,113.3 77.2,114.4C77.4,115.5 77.7,116.7 78.0,117.8C78.2,119.0 78.5,120.1 78.8,121.2C79.0,122.4 79.3,123.5 79.6,124.6C79.8,125.8 80.1,126.9 80.4,128.0C80.7,129.2 81.0,130.3 81.2,131.4C81.5,132.6 81.8,133.7 82.1,134.8C82.4,136.0 82.7,137.1 83.0,138.2C83.3,139.3 83.6,140.5 83.9,141.6C84.2,142.7 84.5,143.8 84.8,145.0C85.1,146.1 85.4,147.2 85.8,148.3C86.1,149.5 86.4,150.6 86.7,151.7C87.0,152.8 87.4,153.9 87.7,155.1C88.1,156.2 88.4,157.3 88.8,158.4C89.2,159.5 89.6,160.6 90.0,161.7C90.4,162.8 90.9,163.8 91.4,164.9C91.8,166.0 92.3,167.0 92.8,168.1C93.3,169.1 93.9,170.1 94.5,171.2C95.0,172.2 95.7,173.2 96.3,174.2C96.9,175.1 97.6,176.1 98.3,177.0C99.0,177.9 99.8,178.8 100.6,179.7C101.4,180.5 102.2,181.4 103.1,182.1C104.0,182.9 104.9,183.6 105.9,184.2C106.9,184.9 107.9,185.4 108.9,185.9C110.0,186.4 111.1,186.7 112.3,187.0C113.4,187.2 114.6,187.3 115.7,187.4C116.9,187.5 118.1,187.5 119.2,187.6C120.4,187.6 121.6,187.6 122.7,187.8C123.9,187.9 125.1,188.1 126.2,188.4C127.3,188.7 128.4,189.1 129.4,189.7C130.5,190.2 131.5,190.8 132.4,191.6C133.2,192.3 134.1,193.1 134.8,194.1C135.5,194.9 136.2,195.9 136.8,196.9C137.5,197.9 138.1,198.9 138.7,199.9C139.3,200.9 139.8,201.9 140.4,202.9C141.0,203.9 141.6,204.9 142.2,205.9C142.8,206.9 143.4,207.9 144.1,208.9C144.7,209.9 145.4,210.8 146.0,211.8C146.7,212.7 147.4,213.7 148.2,214.6C148.9,215.5 149.6,216.4 150.4,217.2C151.2,218.1 152.0,219.0 152.8,219.8C153.7,220.6 154.5,221.4 155.4,222.2C156.3,222.9 157.2,223.7 158.1,224.4C159.0,225.1 159.9,225.8 160.9,226.5C161.8,227.2 162.7,227.9 163.7,228.6C164.7,229.2 165.6,229.9 166.6,230.5C167.6,231.2 168.5,231.8 169.5,232.5C170.5,233.1 171.4,233.8 172.4,234.4C173.4,235.1 174.3,235.8 175.3,236.4C176.2,237.1 177.2,237.8 178.1,238.5C179.0,239.2 179.9,239.9 180.9,240.7C181.8,241.4 182.7,242.1 183.6,242.9C184.5,243.6 185.3,244.4 186.2,245.2C187.1,246.0 187.9,246.7 188.8,247.5C189.6,248.3 190.5,249.2 191.3,250.0C192.1,250.8 193.0,251.6 193.8,252.5C194.6,253.3 195.4,254.2 196.1,255.0C196.9,255.9 197.7,256.8 198.5,257.6C199.2,258.5 200.0,259.4 200.7,260.3C201.5,261.2 202.2,262.1 202.9,263.1C203.6,264.0 204.3,264.9 205.1,265.8C205.8,266.7 206.5,267.7 207.2,268.6C207.8,269.6 208.5,270.5 209.2,271.4C209.9,272.4 210.6,273.3 211.3,274.3C211.9,275.2 212.6,276.2 213.3,277.2C213.9,278.1 214.6,279.1 215.3,280.0C216.0,281.0 216.6,281.9 217.3,282.9C218.0,283.8 218.6,284.8 219.3,285.7C220.0,286.7 220.7,287.6 221.3,288.6C222.0,289.5 222.7,290.5 223.4,291.4C224.1,292.4 224.8,293.3 225.5,294.2C226.2,295.2 226.9,296.1 227.6,297.0C228.3,297.9 229.1,298.9 229.8,299.8C230.5,300.7 231.2,301.6 232.0,302.5C232.7,303.4 233.4,304.3 234.2,305.2C234.9,306.1 235.7,307.0 236.4,307.9C237.1,308.8 237.9,309.7 238.7,310.6C239.4,311.5 240.2,312.4 240.9,313.3C241.7,314.1 242.4,315.0 243.2,315.9C244.0,316.8 244.7,317.7 245.5,318.5C246.3,319.4 247.1,320.3 247.8,321.2C248.6,322.0 249.4,322.9 250.2,323.7C251.0,324.6 251.8,325.4 252.6,326.3C253.4,327.1 254.3,327.9 255.1,328.7C255.9,329.6 256.8,330.4 257.7,331.1C258.5,331.9 259.4,332.7 260.3,333.4C261.2,334.1 262.1,334.9 263.1,335.6C264.0,336.3 265.0,336.9 265.9,337.6C266.9,338.2 267.9,338.9 268.9,339.5C269.9,340.1 270.9,340.7 271.9,341.2C272.9,341.8 273.9,342.4 275.0,342.9C276.0,343.4 277.1,343.9 278.1,344.4C279.2,344.9 280.3,345.4 281.3,345.8C282.4,346.3 283.5,346.7 284.6,347.2C285.7,347.6 286.7,348.0 287.8,348.4C288.9,348.8 290.0,349.2 291.1,349.5C296.2,351.2 301.3,352.7 306.5,353.9C311.7,355.2 316.9,356.4 322.1,357.5C327.4,358.6 332.6,359.5 337.8,360.5C343.1,361.4 348.4,362.2 353.6,363.0C358.9,363.8 364.2,364.6 369.5,365.3C374.8,366.0 380.0,366.7 385.3,367.4C390.6,368.0 395.9,368.7 401.2,369.3C406.5,369.9 411.8,370.5 417.1,371.0C422.4,371.6 427.7,372.1 433.1,372.6C438.4,373.2 443.7,373.7 449.0,374.1C454.3,374.6 459.6,375.1 464.9,375.5C470.2,376.0 475.6,376.4 480.9,376.9C486.2,377.3 491.5,377.7 496.8,378.1C502.1,378.4 507.5,378.8 512.8,379.1C520.0,379.4 527.3,379.7 534.5,379.9" stroke="#4682b4"/>
</g>
<g stroke="#000" fill="none">
<path d="M61.15,4.1000000000000005V387.75" stroke-width="1.45"/>
<path d="M534.4,4.1000000000000005V387.75" stroke-width="1.35"/>
<path d="M60.379999999999995,4.9H535.0699999999999" stroke-width="1.6"/>
<path d="M60.379999999999995,386.85H535.0699999999999" stroke-width="1.8"/>
<path d="M86.7,386.85v-7.5M118.7,386.85v-3.8M150.7,386.85v-7.5M182.7,386.85v-3.8M214.7,386.85v-7.5M246.7,386.85v-3.8M278.7,386.85v-7.5M310.7,386.85v-3.8M342.7,386.85v-7.5M374.7,386.85v-3.8M406.7,386.85v-7.5M438.7,386.85v-3.8M470.7,386.85v-7.5M502.7,386.85v-3.8M534.7,386.85v-7.5M61.15,344.5h3.8M61.15,302.0h7.5M61.15,259.5h3.8M61.15,217.0h7.5M61.15,174.5h3.8M61.15,132.0h7.5M61.15,89.5h3.8M61.15,47.0h7.5" stroke-width="1.5"/>
</g>
<g font-family="'Liberation Serif', serif" font-size="17.9" fill="#000" stroke="#000" stroke-width="0.2">
<text x="86.7" y="409.7" text-anchor="middle">250</text>
<text x="150.7" y="409.7" text-anchor="middle">300</text>
<text x="214.7" y="409.7" text-anchor="middle">350</text>
<text x="278.7" y="409.7" text-anchor="middle">400</text>
<text x="342.7" y="409.7" text-anchor="middle">450</text>
<text x="406.7" y="409.7" text-anchor="middle">500</text>
<text x="470.7" y="409.7" text-anchor="middle">550</text>
<text x="534.7" y="409.7" text-anchor="middle">600</text>
<text x="53.3" y="393.6" text-anchor="end">0.0</text>
<text x="53.3" y="308.6" text-anchor="end">0.5</text>
<text x="53.3" y="223.6" text-anchor="end">1.0</text>
<text x="53.3" y="138.6" text-anchor="end">1.5</text>
<text x="53.3" y="53.6" text-anchor="end">2.0</text>
</g>
<g font-family="'Liberation Serif', serif" font-size="20" fill="#000" stroke="#000" stroke-width="0.2">
<text x="291.3" y="440.5" text-anchor="middle">Wavelength (nm)</text>
<text transform="translate(20.3,189.6) rotate(-90)" text-anchor="middle">Absorbance (a.u.)</text>
</g>
<g font-family="'Liberation Serif', serif" font-size="16.15" fill="#000" stroke="#000" stroke-width="0.2">
<path d="M350.3,35.4H387.6" stroke="#000000" stroke-width="2" fill="none"/>
<text x="396.0" y="41.7">EHL</text>
<path d="M350.3,57.6H387.6" stroke="#ff0000" stroke-width="2" fill="none"/>
<text x="390.8" y="63.9">ChCl-LA-DEHL</text>
<path d="M350.3,79.8H387.6" stroke="#0000ff" stroke-width="2" fill="none"/>
<text x="390.8" y="86.1">ChCl-HAc-DEHL</text>
<path d="M350.3,102.1H387.6" stroke="#1fcfd6" stroke-width="2" fill="none"/>
<text x="390.8" y="108.4">ChCl-FA-DEHL</text>
<path d="M350.3,124.3H387.6" stroke="#7a10e8" stroke-width="2" fill="none"/>
<text x="390.8" y="130.6">ChCl-OA-DEHL</text>
<path d="M350.3,146.5H387.6" stroke="#00e000" stroke-width="2" fill="none"/>
<text x="390.8" y="152.8">ChCl-MA-DEHL</text>
<path d="M350.3,168.7H387.6" stroke="#e0609a" stroke-width="2" fill="none"/>
<text x="390.8" y="175.0">ChCl-CA-DEHL</text>
<path d="M350.3,190.9H387.6" stroke="#4682b4" stroke-width="2" fill="none"/>
<text x="390.8" y="197.2">ChCl-TsOH-DEHL</text>
</g>
</svg>
</body></html>
